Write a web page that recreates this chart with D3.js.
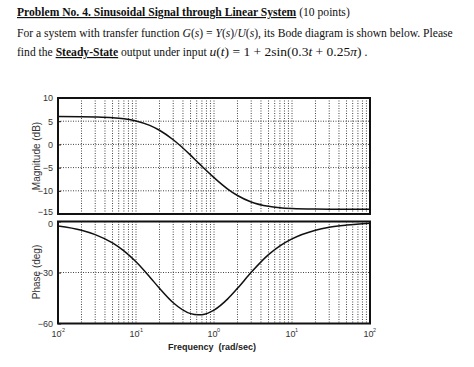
<!DOCTYPE html>
<html><head><meta charset="utf-8">
<script src="https://cdn.jsdelivr.net/npm/d3@7"></script>
<style>
body{margin:0;background:#fff;}
svg{display:block;}
</style></head>
<body>
<svg id="chart" width="474" height="367"></svg>
<script>
// ---- data ----
const freq = [0.01,0.02,0.03,0.05,0.07,0.1,0.15,0.2,0.3,0.5,0.63,0.7,1,1.5,2,3,5,7,10,20,30,50,100];
const magDB = [6.01,5.98,5.92,5.76,5.52,5.06,4.11,3.05,1.00,-2.32,-3.99,-4.70,-7.16,-9.62,-11.01,-12.40,-13.34,-13.64,-13.81,-13.94,-13.96,-13.97,-13.98];
const phaseDeg = [-2.6,-5.1,-7.7,-12.6,-17.3,-23.7,-32.6,-39.3,-47.8,-54.2,-54.9,-54.8,-52.1,-45.5,-39.3,-29.9,-19.5,-14.3,-10.2,-5.1,-3.4,-2.1,-1.0];
const magTicks = [10,5,0,-5,-10,-15];
const phaseTicks = [0,-30,-60];
const freqTicks = [0.01,0.1,1,10,100];
const freqExp = ["-2","-1","0","1","2"];

const svg = d3.select("#chart");
svg.append("rect").attr("width",474).attr("height",367).attr("fill","#fff");

// ---- header text ----
const serif = "'Liberation Serif','Times New Roman',serif";
const fs = 11.6;
const t1 = svg.append("text").attr("x",17).attr("y",16).attr("font-family",serif).attr("font-size",fs).attr("fill","#111");
t1.append("tspan").attr("font-weight","bold").attr("text-decoration","underline").text("Problem No. 4. Sinusoidal Signal through Linear System");
t1.append("tspan").text(" (10 points)");

const t2 = svg.append("text").attr("x",17).attr("y",37).attr("font-family",serif).attr("font-size",fs).attr("fill","#111");
t2.append("tspan").text("For a system with transfer function ");
t2.append("tspan").attr("font-style","italic").text("G");
t2.append("tspan").text("(");
t2.append("tspan").attr("font-style","italic").text("s");
t2.append("tspan").text(") = ");
t2.append("tspan").attr("font-style","italic").text("Y");
t2.append("tspan").text("(");
t2.append("tspan").attr("font-style","italic").text("s");
t2.append("tspan").text(")/");
t2.append("tspan").attr("font-style","italic").text("U");
t2.append("tspan").text("(");
t2.append("tspan").attr("font-style","italic").text("s");
t2.append("tspan").text("), its Bode diagram is shown below. Please");

const t3 = svg.append("text").attr("x",17).attr("y",56).attr("font-family",serif).attr("font-size",fs).attr("fill","#111");
t3.append("tspan").text("find the ");
t3.append("tspan").attr("font-weight","bold").attr("text-decoration","underline").text("Steady-State");
t3.append("tspan").text(" output under input  ");
const m = t3.append("tspan").attr("font-size",13.5);
m.append("tspan").attr("font-style","italic").text("u");
m.append("tspan").text("(");
m.append("tspan").attr("font-style","italic").text("t");
m.append("tspan").text(") = 1 + 2sin(0.3");
m.append("tspan").attr("font-style","italic").text("t");
m.append("tspan").text(" + 0.25");
m.append("tspan").attr("font-style","italic").text("π");
m.append("tspan").text(")");
t3.append("tspan").text(" .");

// ---- scales ----
const L = 58, R = 370;
const x = d3.scaleLog().domain([0.01,100]).range([L,R]);
const yMag = d3.scaleLinear().domain([-15,10]).range([214,98]);
const yPh = d3.scaleLinear().domain([-60,0]).range([323.5,221.5]);

const sans = "'Liberation Sans',Arial,Helvetica,sans-serif";
const gridCol = "#444";

function panel(y, ticks, vals, label, labelY, shiftTop, shiftBottom) {
  const g = svg.append("g");
  const [y0,y1] = y.range(); // bottom, top
  const minor = x.ticks(40).filter(v => v > 0.01 && v < 100);
  g.selectAll("line.vg").data(minor).join("line")
    .attr("x1",d=>x(d)).attr("x2",d=>x(d)).attr("y1",y1).attr("y2",y0)
    .attr("stroke",gridCol).attr("stroke-width",1).attr("stroke-dasharray","1,1.5");
  g.selectAll("line.hg").data(ticks.filter(t=>t!==y.domain()[0] && t!==y.domain()[1])).join("line")
    .attr("x1",L).attr("x2",R).attr("y1",d=>y(d)).attr("y2",d=>y(d))
    .attr("stroke",gridCol).attr("stroke-width",1).attr("stroke-dasharray","1,1.5");
  const line = d3.line().x((d,i)=>x(freq[i])).y(d=>y(d)).curve(d3.curveMonotoneX);
  g.append("path").datum(vals).attr("d",line).attr("fill","none").attr("stroke","#111").attr("stroke-width",1.5);
  const ax = g.append("g").attr("transform",`translate(${L},0)`)
    .call(d3.axisLeft(y).tickValues(ticks).tickSize(3).tickPadding(2).tickFormat(d3.format("d")));
  ax.select(".domain").remove();
  ax.selectAll("line").attr("stroke","#111").attr("x2",3);
  ax.selectAll("text").attr("font-family",sans).attr("font-size",9).attr("fill","#333");
  ax.selectAll(".tick").filter(d=>d===y.domain()[1]).select("text").attr("dy", shiftTop);
  ax.selectAll(".tick").filter(d=>d===y.domain()[0]).select("text").attr("dy", shiftBottom);
  g.append("rect").attr("x",L).attr("y",y1).attr("width",R-L).attr("height",y0-y1)
    .attr("fill","none").attr("stroke","#111").attr("stroke-width",2);
  g.append("text").attr("transform",`translate(36.5,${labelY}) rotate(-90)`)
    .attr("text-anchor","middle").attr("dominant-baseline","central")
    .attr("font-family",sans).attr("font-size",10).attr("fill","#333").text(label);
}
panel(yMag, magTicks, magDB, "Magnitude (dB)", 156, "0.32em", "0.1em");
panel(yPh, phaseTicks, phaseDeg, "Phase (deg)", 272, "0.6em", "0.32em");

// ---- x axis labels ----
const xa = svg.append("g").attr("transform","translate(0,323.5)")
  .call(d3.axisBottom(x).tickValues(freqTicks).tickSize(0).tickPadding(7).tickFormat(()=> "10"));
xa.select(".domain").remove();
xa.selectAll("text").attr("font-family",sans).attr("font-size",9).attr("fill","#333").attr("dx",-2);
xa.selectAll(".tick").append("text").attr("x",4).attr("y",8)
  .attr("font-family",sans).attr("font-size",5.5).attr("fill","#333")
  .text((d,i)=>freqExp[i]);

svg.append("text").attr("x",212).attr("y",350).attr("text-anchor","middle")
  .attr("font-family",sans).attr("font-size",9).attr("font-weight","bold").attr("fill","#222")
  .attr("xml:space","preserve").text("Frequency  (rad/sec)");
</script>
</body></html>
